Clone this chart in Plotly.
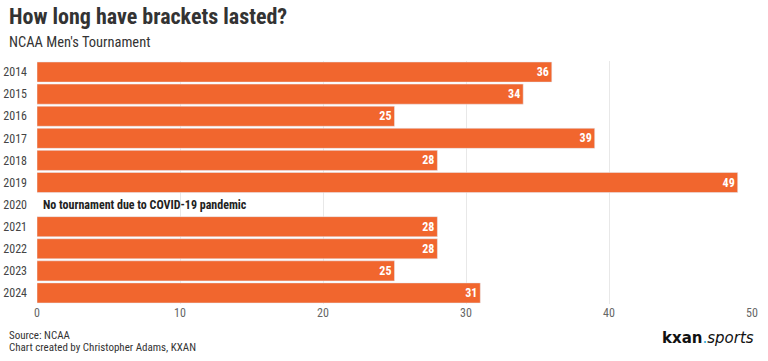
import plotly.graph_objects as go

years = ["2014", "2015", "2016", "2017", "2018", "2019", "2020", "2021", "2022", "2023", "2024"]
days = [36, 34, 25, 39, 28, 49, None, 28, 28, 25, 31]
tick_vals = [0, 10, 20, 30, 40, 50]

FONT = "Liberation Sans Narrow, Roboto Condensed, Roboto, sans-serif"
ORANGE = "#f1662e"
W, H = 768, 361
ML, MR, MT, MB = 37, 16, 61, 57


def px(x):
    return (x - ML) / (W - ML - MR)


def py(y):
    return (H - MB - y) / (H - MT - MB)


fig = go.Figure()
fig.add_trace(go.Bar(
    y=years, x=days, orientation="h",
    marker_color=ORANGE,
    text=["<b>%s</b>" % d if d is not None else "" for d in days],
    textposition="inside", insidetextanchor="end",
    textfont=dict(family=FONT, size=12, color="white"),
    hoverinfo="skip",
))

fig.add_annotation(x=0, y=years.index("2020"), xref="x", yref="y",
                   text="<b>No tournament due to COVID-19 pandemic</b>",
                   showarrow=False, xanchor="left", xshift=4,
                   font=dict(family=FONT, size=12, color="#222222"))

fig.update_layout(
    width=W, height=H,
    margin=dict(l=ML, r=MR, t=MT, b=MB, autoexpand=False),
    paper_bgcolor="white", plot_bgcolor="white",
    bargap=0.09, showlegend=False,
    font=dict(family=FONT, color="#333333"),
    xaxis=dict(range=[0, 50], tickvals=tick_vals, showgrid=True, gridcolor="#e8e8e8",
               zeroline=False, showline=False, ticks="",
               tickfont=dict(family=FONT, size=12, color="#666666")),
    yaxis=dict(type="category", categoryorder="array", categoryarray=years,
               range=[len(years) - 0.5, -0.5],
               showgrid=False, zeroline=False, ticks="", ticklabelstandoff=9,
               tickfont=dict(family=FONT, size=12, color="#444444")),
)

texts = [
    ("<b>How long have brackets lasted?</b>", 7, 17, 22, "left", FONT, "#333333"),
    ("NCAA Men's Tournament", 7, 42, 14.5, "left", FONT, "#333333"),
    ("Source: NCAA", 7, 335, 11, "left", FONT, "#333333"),
    ("Chart created by Christopher Adams, KXAN", 7, 347, 11, "left", FONT, "#333333"),
    ("<b>kxan</b><span style='color:#2aa8d8'>.</span><i>sports</i>", 756, 338, 15, "right",
     "DejaVu Sans, sans-serif", "#111111"),
]
for t, x, y, s, anchor, fam, col in texts:
    fig.add_annotation(text=t, xref="paper", yref="paper", x=px(x), y=py(y), showarrow=False,
                       xanchor=anchor, yanchor="middle", font=dict(family=fam, size=s, color=col))

fig.write_html("out.html", config={"displayModeBar": False})
with open("out.html", encoding="utf-8") as f:
    html = f.read()
html = html.replace("<body>", '<body style="margin:0;padding:0">', 1)
with open("out.html", "w", encoding="utf-8") as f:
    f.write(html)
